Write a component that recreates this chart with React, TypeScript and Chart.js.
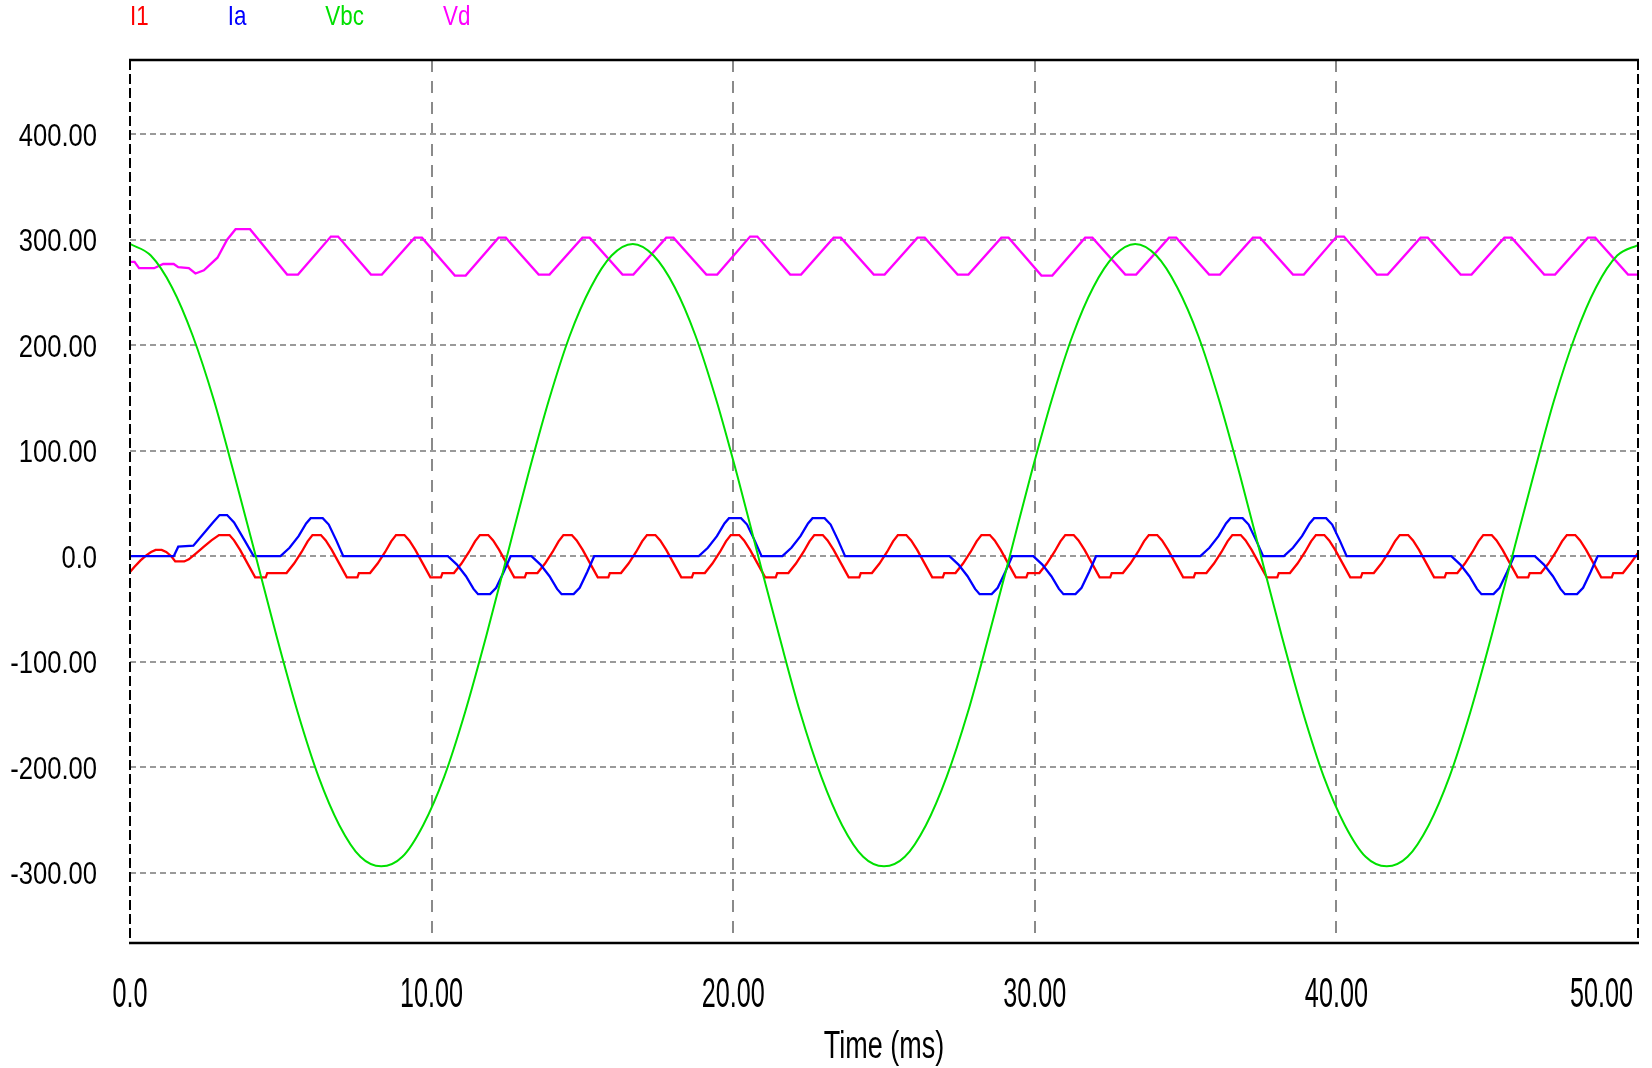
import React, { useEffect, useRef } from "react";
import { Chart, registerables } from "chart.js";
Chart.register(...registerables);

const xTicks = [0, 10, 20, 30, 40, 50];
const xTickLabels = ["0.0", "10.00", "20.00", "30.00", "40.00", "50.00"];
const yTicks = [400, 300, 200, 100, 0, -100, -200, -300];
const yTickLabels = ["400.00", "300.00", "200.00", "100.00", "0.0", "-100.00", "-200.00", "-300.00"];
const xTitle = "Time (ms)";
const seriesNames = ["I1", "Ia", "Vbc", "Vd"];
const seriesColors = ["#ff0000", "#0000ff", "#00e000", "#ff00ff"];

const i1Points: [number, number][] = [
  [0, -15], [0.15, -10], [0.35, -4], [0.55, 1], [0.7, 4], [0.85, 6], [1.05, 6], [1.2, 4], [1.37, 0], [1.5, -5], [1.8, -5], [1.95, -3], [2.2, 3], [2.45, 9], [2.7, 15], [2.95, 20], [3.3, 20], [3.45, 15], [3.65, 6], [3.9, -7], [4.15, -20], [4.5, -20], [4.55, -16],
  [5.19, -16], [5.44, -7], [5.69, 4], [5.89, 14], [6.05, 20], [6.33, 20], [6.49, 15], [6.69, 6], [6.94, -7], [7.19, -20], [7.54, -20], [7.59, -16],
  [7.96, -16], [8.21, -7], [8.46, 4], [8.66, 14], [8.82, 20], [9.1, 20], [9.26, 15], [9.46, 6], [9.71, -7], [9.96, -20], [10.31, -20], [10.36, -16],
  [10.74, -16], [10.99, -7], [11.24, 4], [11.44, 14], [11.6, 20], [11.88, 20], [12.04, 15], [12.24, 6], [12.49, -7], [12.74, -20], [13.09, -20], [13.14, -16],
  [13.51, -16], [13.76, -7], [14.01, 4], [14.21, 14], [14.37, 20], [14.65, 20], [14.81, 15], [15.01, 6], [15.26, -7], [15.51, -20], [15.86, -20], [15.91, -16],
  [16.28, -16], [16.53, -7], [16.78, 4], [16.98, 14], [17.14, 20], [17.42, 20], [17.58, 15], [17.78, 6], [18.03, -7], [18.28, -20], [18.63, -20], [18.68, -16],
  [19.06, -16], [19.31, -7], [19.56, 4], [19.76, 14], [19.92, 20], [20.2, 20], [20.36, 15], [20.56, 6], [20.81, -7], [21.06, -20], [21.41, -20], [21.46, -16],
  [21.83, -16], [22.08, -7], [22.33, 4], [22.53, 14], [22.69, 20], [22.97, 20], [23.13, 15], [23.33, 6], [23.58, -7], [23.83, -20], [24.18, -20], [24.23, -16],
  [24.6, -16], [24.85, -7], [25.1, 4], [25.3, 14], [25.46, 20], [25.74, 20], [25.9, 15], [26.1, 6], [26.35, -7], [26.6, -20], [26.95, -20], [27.0, -16],
  [27.37, -16], [27.62, -7], [27.87, 4], [28.07, 14], [28.23, 20], [28.51, 20], [28.67, 15], [28.87, 6], [29.12, -7], [29.37, -20], [29.72, -20], [29.77, -16],
  [30.15, -16], [30.4, -7], [30.65, 4], [30.85, 14], [31.01, 20], [31.29, 20], [31.45, 15], [31.65, 6], [31.9, -7], [32.15, -20], [32.5, -20], [32.55, -16],
  [32.92, -16], [33.17, -7], [33.42, 4], [33.62, 14], [33.78, 20], [34.06, 20], [34.22, 15], [34.42, 6], [34.67, -7], [34.92, -20], [35.27, -20], [35.32, -16],
  [35.69, -16], [35.94, -7], [36.19, 4], [36.39, 14], [36.55, 20], [36.83, 20], [36.99, 15], [37.19, 6], [37.44, -7], [37.69, -20], [38.04, -20], [38.09, -16],
  [38.46, -16], [38.71, -7], [38.96, 4], [39.16, 14], [39.32, 20], [39.6, 20], [39.76, 15], [39.96, 6], [40.21, -7], [40.46, -20], [40.81, -20], [40.86, -16],
  [41.24, -16], [41.49, -7], [41.74, 4], [41.94, 14], [42.1, 20], [42.38, 20], [42.54, 15], [42.74, 6], [42.99, -7], [43.24, -20], [43.59, -20], [43.64, -16],
  [44.01, -16], [44.26, -7], [44.51, 4], [44.71, 14], [44.87, 20], [45.15, 20], [45.31, 15], [45.51, 6], [45.76, -7], [46.01, -20], [46.36, -20], [46.41, -16],
  [46.78, -16], [47.03, -7], [47.28, 4], [47.48, 14], [47.64, 20], [47.92, 20], [48.08, 15], [48.28, 6], [48.53, -7], [48.78, -20], [49.13, -20], [49.18, -16],
  [49.5, -16], [49.75, -7], [50, 3],
];

const iaPoints: [number, number][] = [
  [0, 0], [1.45, 0], [1.6, 9], [2.1, 10], [2.4, 20], [2.75, 32], [2.97, 39], [3.22, 39], [3.45, 32], [3.8, 15], [4.1, 0],
  [4.99, 0], [5.29, 8], [5.59, 19], [5.84, 31], [5.99, 36], [6.39, 36], [6.59, 30], [6.84, 15], [7.07, 0],
  [10.54, 0], [10.84, -8], [11.14, -19], [11.39, -31], [11.54, -36], [11.94, -36], [12.14, -30], [12.39, -15], [12.62, 0],
  [13.31, 0], [13.61, -8], [13.91, -19], [14.16, -31], [14.31, -36], [14.71, -36], [14.91, -30], [15.16, -15], [15.39, 0],
  [18.86, 0], [19.16, 8], [19.46, 19], [19.71, 31], [19.86, 36], [20.26, 36], [20.46, 30], [20.71, 15], [20.94, 0],
  [21.63, 0], [21.93, 8], [22.23, 19], [22.48, 31], [22.63, 36], [23.03, 36], [23.23, 30], [23.48, 15], [23.71, 0],
  [27.17, 0], [27.47, -8], [27.77, -19], [28.02, -31], [28.17, -36], [28.57, -36], [28.77, -30], [29.02, -15], [29.25, 0],
  [29.95, 0], [30.25, -8], [30.55, -19], [30.8, -31], [30.95, -36], [31.35, -36], [31.55, -30], [31.8, -15], [32.03, 0],
  [35.49, 0], [35.79, 8], [36.09, 19], [36.34, 31], [36.49, 36], [36.89, 36], [37.09, 30], [37.34, 15], [37.57, 0],
  [38.26, 0], [38.56, 8], [38.86, 19], [39.11, 31], [39.26, 36], [39.66, 36], [39.86, 30], [40.11, 15], [40.34, 0],
  [43.81, 0], [44.11, -8], [44.41, -19], [44.66, -31], [44.81, -36], [45.21, -36], [45.41, -30], [45.66, -15], [45.89, 0],
  [46.58, 0], [46.88, -8], [47.18, -19], [47.43, -31], [47.58, -36], [47.98, -36], [48.18, -30], [48.43, -15], [48.66, 0],
  [50, 0],
];

const vbcTime = [
  0, 0.69, 1.39, 2.08, 2.78, 3.47, 4.17, 4.86, 5.56, 6.25, 6.94, 7.64,
  8.33, 9.03, 9.72, 10.42, 11.11, 11.81, 12.5, 13.19, 13.89, 14.58, 15.28, 15.97,
  16.67, 17.36, 18.06, 18.75, 19.44, 20.14, 20.83, 21.53, 22.22, 22.92, 23.61, 24.31,
  25, 25.69, 26.39, 27.08, 27.78, 28.47, 29.17, 29.86, 30.56, 31.25, 31.94, 32.64,
  33.33, 34.03, 34.72, 35.42, 36.11, 36.81, 37.5, 38.19, 38.89, 39.58, 40.28, 40.97,
  41.67, 42.36, 43.06, 43.75, 44.44, 45.14, 45.83, 46.53, 47.22, 47.92, 48.61, 49.31,
  50,
];
const vbcValues = [
  296, 285, 255, 209, 148, 76, 0, -76, -148, -209, -255, -285,
  -294, -285, -255, -209, -148, -76, 0, 76, 148, 209, 255, 285,
  296, 285, 255, 209, 148, 76, 0, -76, -148, -209, -255, -285,
  -294, -285, -255, -209, -148, -76, 0, 76, 148, 209, 255, 285,
  296, 285, 255, 209, 148, 76, 0, -76, -148, -209, -255, -285,
  -294, -285, -255, -209, -148, -76, 0, 76, 148, 209, 255, 285,
  295,
];

const vdPoints: [number, number][] = [
  [0, 279], [0.15, 279], [0.3, 273], [0.8, 273], [1.1, 277], [1.45, 277], [1.6, 274], [1.95, 273], [2.17, 268], [2.45, 271], [2.9, 283], [3.22, 300], [3.5, 310], [3.98, 310], [5.21, 267], [5.57, 267],
  [6.66, 303], [6.9, 303], [7.99, 267], [8.35, 267], [9.44, 302], [9.68, 302], [10.77, 266], [11.13, 266],
  [12.22, 302], [12.46, 302], [13.55, 267], [13.91, 267], [15.0, 302], [15.24, 302], [16.33, 267], [16.69, 267],
  [17.78, 302], [18.02, 302], [19.11, 267], [19.47, 267], [20.56, 303], [20.8, 303], [21.89, 267], [22.25, 267],
  [23.33, 302], [23.57, 302], [24.66, 267], [25.02, 267], [26.11, 302], [26.35, 302], [27.44, 267], [27.8, 267],
  [28.89, 302], [29.13, 302], [30.22, 266], [30.58, 266], [31.67, 302], [31.91, 302], [33.0, 267], [33.36, 267],
  [34.45, 302], [34.69, 302], [35.78, 267], [36.14, 267], [37.23, 302], [37.47, 302], [38.56, 267], [38.92, 267],
  [40.01, 303], [40.25, 303], [41.34, 267], [41.7, 267], [42.79, 302], [43.03, 302], [44.12, 267], [44.48, 267],
  [45.57, 302], [45.81, 302], [46.89, 267], [47.25, 267], [48.34, 302], [48.58, 302], [49.67, 267], [50, 267],
];

const FONT = '"Liberation Sans", Arial, sans-serif';

function drawText(
  ctx: CanvasRenderingContext2D,
  text: string,
  x: number,
  y: number,
  size: number,
  sx: number,
  align: "left" | "center" | "right",
  color: string
): number {
  ctx.save();
  ctx.font = `${size}px ${FONT}`;
  ctx.fillStyle = color;
  ctx.textBaseline = "alphabetic";
  ctx.textAlign = "left";
  const w = ctx.measureText(text).width * sx;
  const x0 = align === "center" ? x - w / 2 : align === "right" ? x - w : x;
  ctx.translate(x0, y);
  ctx.scale(sx, 1);
  ctx.fillText(text, 0, 0);
  ctx.restore();
  return w;
}

const psimPlugin = {
  id: "psimDecor",
  afterDatasetsDraw(chart: any) {
    const { ctx, chartArea: a } = chart;
    ctx.save();
    ctx.strokeStyle = "#000";
    ctx.lineWidth = 2.5;
    ctx.setLineDash([]);
    ctx.beginPath();
    ctx.moveTo(a.left - 1, a.top);
    ctx.lineTo(a.right + 1, a.top);
    ctx.moveTo(a.left - 1, a.bottom);
    ctx.lineTo(a.right + 1, a.bottom);
    ctx.stroke();
    ctx.lineWidth = 2;
    ctx.setLineDash([10, 4]);
    ctx.beginPath();
    ctx.moveTo(a.left, a.top);
    ctx.lineTo(a.left, a.bottom);
    ctx.moveTo(a.right, a.top);
    ctx.lineTo(a.right, a.bottom);
    ctx.stroke();
    ctx.restore();
  },
  afterDraw(chart: any) {
    const { ctx, chartArea: a } = chart;
    const xs = chart.scales.x;
    const ys = chart.scales.y;
    yTicks.forEach((v, i) => {
      const y = ys.getPixelForValue(v);
      drawText(ctx, yTickLabels[i], a.left - 33, y + 11.5, 32, 0.8, "right", "#000");
    });
    xTicks.forEach((v, i) => {
      ctx.save();
      ctx.font = `42px ${FONT}`;
      const w = ctx.measureText(xTickLabels[i]).width * 0.6;
      ctx.restore();
      let x = xs.getPixelForValue(v);
      x = Math.min(x, chart.width - 19 - w / 2);
      drawText(ctx, xTickLabels[i], x, a.bottom + 64, 42, 0.6, "center", "#000");
    });
    drawText(ctx, xTitle, (a.left + a.right) / 2, 1058, 38, 0.71, "center", "#000");
    let lx = a.left;
    seriesNames.forEach((n, i) => {
      const w = drawText(ctx, n, lx, 25, 28, 0.8, "left", seriesColors[i]);
      lx += w + 79;
    });
  },
};

const toXY = (pts: [number, number][]) => pts.map(([x, y]) => ({ x, y }));

export default function App() {
  const ref = useRef<HTMLCanvasElement>(null);
  useEffect(() => {
    const vbcData = vbcTime.map((t, i) => ({ x: t, y: vbcValues[i] }));
    const chart = new Chart(ref.current as HTMLCanvasElement, {
      type: "line",
      data: {
        datasets: [
          {
            label: seriesNames[0],
            data: toXY(i1Points),
            borderColor: seriesColors[0],
            borderWidth: 2.3,
            pointRadius: 0,
            tension: 0,
            fill: false,
            order: 2,
          },
          {
            label: seriesNames[1],
            data: toXY(iaPoints),
            borderColor: seriesColors[1],
            borderWidth: 2.3,
            pointRadius: 0,
            tension: 0,
            fill: false,
            order: 1,
          },
          {
            label: seriesNames[2],
            data: vbcData,
            borderColor: seriesColors[2],
            borderWidth: 2,
            pointRadius: 0,
            cubicInterpolationMode: "monotone",
            fill: false,
            order: 0,
          },
          {
            label: seriesNames[3],
            data: toXY(vdPoints),
            borderColor: seriesColors[3],
            borderWidth: 2.3,
            pointRadius: 0,
            tension: 0,
            fill: false,
            order: 3,
          },
        ],
      },
      options: {
        responsive: false,
        animation: false,
        devicePixelRatio: 1,
        events: [],
        layout: { padding: { top: 60, left: 0, right: 14, bottom: 0 } },
        plugins: { legend: { display: false }, tooltip: { enabled: false }, title: { display: false } },
        scales: {
          x: {
            type: "linear",
            min: 0,
            max: 50,
            afterBuildTicks: (s: any) => {
              s.ticks = xTicks.map((v) => ({ value: v }));
            },
            afterFit: (s: any) => {
              s.height = 125;
            },
            ticks: { display: false },
            grid: {
              color: (c: any) =>
                c.tick && (c.tick.value === xTicks[0] || c.tick.value === xTicks[xTicks.length - 1])
                  ? "rgba(0,0,0,0)"
                  : "#8a8a8a",
              lineWidth: 2,
              drawTicks: false,
            },
            border: { display: false, dash: [12, 9] },
          },
          y: {
            type: "linear",
            min: -366.7,
            max: 470.4,
            afterBuildTicks: (s: any) => {
              s.ticks = yTicks.map((v) => ({ value: v }));
            },
            afterFit: (s: any) => {
              s.width = 130;
            },
            ticks: { display: false },
            grid: { color: "#9a9a9a", lineWidth: 2, drawTicks: false },
            border: { display: false, dash: [6, 4] },
          },
        },
      } as any,
      plugins: [psimPlugin],
    });
    return () => chart.destroy();
  }, []);
  return (
    <div style={{ position: "absolute", left: 0, top: 0, width: 1652, height: 1068, background: "#fff" }}>
      <canvas ref={ref} width={1652} height={1068} style={{ display: "block" }} />
    </div>
  );
}
